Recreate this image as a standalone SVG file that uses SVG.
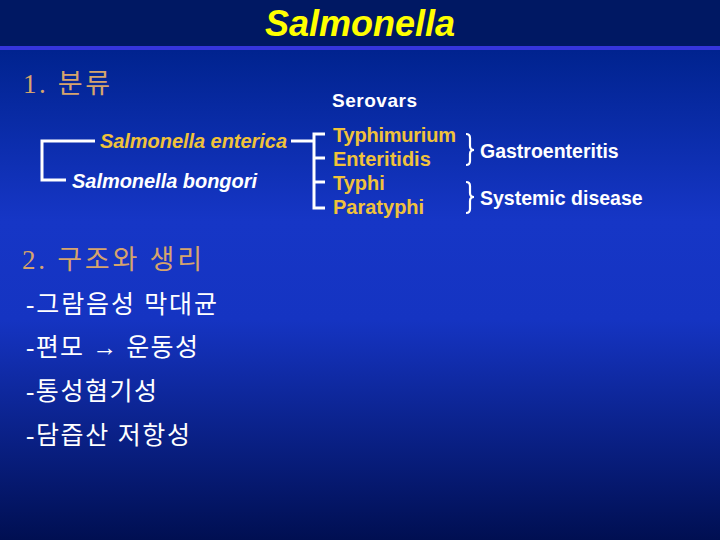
<svg xmlns="http://www.w3.org/2000/svg" width="720" height="540" viewBox="0 0 720 540">
<defs>
<linearGradient id="bg" x1="0" y1="50" x2="0" y2="540" gradientUnits="userSpaceOnUse">
<stop offset="0" stop-color="#00238f"/>
<stop offset="0.35" stop-color="#1636c6"/>
<stop offset="0.55" stop-color="#1534c2"/>
<stop offset="1" stop-color="#000f52"/>
</linearGradient>
<style>
.lat{font-family:"Liberation Sans",Arial,sans-serif;font-weight:bold}
.it{font-style:italic}
.gold{fill:#f0c23a}
.wh{fill:#ffffff}
.kr{font-family:"Liberation Serif","Noto Sans CJK KR",serif}
.head{fill:#d6a46c;font-size:27px}
.item{fill:#ffffff;font-size:25px}
.ln{stroke:#ffffff;stroke-width:3;fill:none}
.br{stroke:#ffffff;stroke-width:2.2;fill:none}
</style>
</defs>
<rect x="0" y="0" width="720" height="540" fill="url(#bg)"/>
<rect x="0" y="0" width="720" height="46" fill="#001863"/>
<rect x="0" y="46" width="720" height="4" fill="#3535dc"/>

<g id="title"><text x="360" y="36" text-anchor="middle" class="lat it" font-size="36" fill="#ffff00">Salmonella</text></g>

<g id="sec1"><text x="23" y="93" class="kr head" textLength="87">1. 분류</text></g>
<g id="serovars-label"><text x="332" y="107" class="lat wh" font-size="19" textLength="85">Serovars</text></g>

<g id="enterica"><text x="100" y="148" class="lat it gold" font-size="20" textLength="187">Salmonella enterica</text></g>
<g id="bongori"><text x="72" y="188" class="lat it wh" font-size="20" textLength="185">Salmonella bongori</text></g>

<g id="typhimurium"><text x="333" y="142" class="lat gold" font-size="20" textLength="123">Typhimurium</text></g>
<g id="enteritidis"><text x="333" y="166" class="lat gold" font-size="20">Enteritidis</text></g>
<g id="typhi"><text x="333" y="190" class="lat gold" font-size="20">Typhi</text></g>
<g id="paratyphi"><text x="333" y="214" class="lat gold" font-size="20">Paratyphi</text></g>

<g id="gastro"><text x="480" y="158" class="lat wh" font-size="19.5">Gastroenteritis</text></g>
<g id="systemic"><text x="480" y="205" class="lat wh" font-size="19.5">Systemic disease</text></g>

<g id="connectors">
<path class="ln" d="M95,141 H42 V180 H66"/>
<path class="ln" d="M291,141 H314"/>
<path class="ln" d="M325,134 H314 V208 H325 M314,158 H325 M314,182 H325"/>
<path class="br" d="M466,134 Q470,134 470,138 L470,146 Q470,150 474,150 Q470,150 470,154 L470,161 Q470,165 466,165"/>
<path class="br" d="M466,182 Q470,182 470,186 L470,193 Q470,197 474,197 Q470,197 470,201 L470,209 Q470,213 466,213"/>
</g>

<g id="sec2"><text x="22" y="269" class="kr head" textLength="180">2. 구조와 생리</text></g>
<g id="item1"><text x="26" y="313" class="kr item" textLength="191">-그람음성 막대균</text></g>
<g id="item2"><text x="26" y="356" class="kr item" textLength="172">-편모 → 운동성</text></g>
<g id="item3"><text x="26" y="400" class="kr item" textLength="131">-통성혐기성</text></g>
<g id="item4"><text x="26" y="444" class="kr item" textLength="164">-담즙산 저항성</text></g>
</svg>
